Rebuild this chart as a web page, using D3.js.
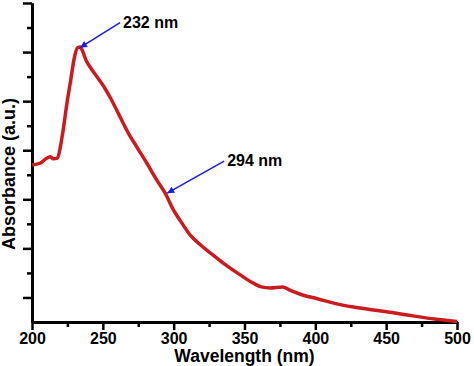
<!DOCTYPE html>
<html>
<head>
<meta charset="utf-8">
<script src="https://cdn.jsdelivr.net/npm/d3@7"></script>
<style>
  body { margin: 0; background: #fff; }
  svg { display: block; font-family: "Liberation Sans", Arial, sans-serif; }
</style>
</head>
<body>
<div id="chart"></div>
<script>
// UV-Vis spectrum, values
const wavelength = [200, 206, 210, 213, 215, 218, 220, 222, 225, 227, 230, 232, 234, 236, 238, 241,
    246, 250, 255, 262, 268, 274, 281, 288, 294, 300, 305, 312, 319, 326, 335, 347,
    356, 362, 368, 377, 382, 391, 402, 413, 427, 441, 456, 470, 484, 500];
const absorbance = [0.640, 0.648, 0.666, 0.673, 0.665, 0.668, 0.713, 0.782, 0.905, 0.974, 1.080, 1.117, 1.121, 1.100, 1.068, 1.039,
    0.998, 0.966, 0.917, 0.838, 0.770, 0.713, 0.648, 0.579, 0.525, 0.455, 0.410, 0.352, 0.314, 0.281, 0.240, 0.192,
    0.159, 0.143, 0.139, 0.143, 0.130, 0.110, 0.094, 0.077, 0.061, 0.049, 0.037, 0.024, 0.012, 0.002];

const xMajorTicks = [200, 250, 300, 350, 400, 450, 500];
const xMinorTicks = [225, 275, 325, 375, 425, 475];
const yMajorTicks = [0.1, 0.3, 0.5, 0.7, 0.9, 1.1, 1.3];
const yMinorTicks = [0.2, 0.4, 0.6, 0.8, 1.0, 1.2];

const peakLabels = ["232 nm", "294 nm"];
const peakWavelengths = [232.5, 294];

const width = 474, height = 366;
const margin = { top: 3, right: 17, bottom: 44, left: 32 };

const x = d3.scaleLinear()
    .domain([200, 500])
    .range([margin.left, width - margin.right]);

const y = d3.scaleLinear()
    .domain([0, 1.3])
    .range([height - margin.bottom, margin.top]);

const data = wavelength.map((w, i) => ({ w: w, a: absorbance[i] }));

const svg = d3.select("#chart").append("svg")
    .attr("width", width)
    .attr("height", height);

// axes: minor ticks first, then major with labels
function styleAxis(g) {
    g.selectAll(".tick line").attr("stroke", "#000").attr("stroke-width", 2.5);
    g.select(".domain").attr("stroke", "#000").attr("stroke-width", 3);
}

svg.append("g")
    .attr("transform", `translate(0,${y(0)})`)
    .call(d3.axisBottom(x).tickValues(xMinorTicks).tickSize(5).tickSizeOuter(0).tickFormat(""))
    .call(styleAxis);

svg.append("g")
    .attr("transform", `translate(0,${y(0)})`)
    .call(d3.axisBottom(x).tickValues(xMajorTicks).tickSize(8).tickSizeOuter(0).tickPadding(3))
    .call(styleAxis)
    .call(g => g.selectAll(".tick text")
        .attr("font-size", 16)
        .attr("font-weight", "bold")
        .attr("fill", "#000"));

svg.append("g")
    .attr("transform", `translate(${x(200)},0)`)
    .call(d3.axisLeft(y).tickValues(yMinorTicks).tickSize(5).tickSizeOuter(0).tickFormat(""))
    .call(styleAxis);

svg.append("g")
    .attr("transform", `translate(${x(200)},0)`)
    .call(d3.axisLeft(y).tickValues(yMajorTicks).tickSize(9).tickSizeOuter(0).tickFormat(""))
    .call(styleAxis);

// axis titles
svg.append("text")
    .attr("x", (x(200) + x(500)) / 2)
    .attr("y", 362)
    .attr("text-anchor", "middle")
    .attr("font-size", 17.5)
    .attr("font-weight", "bold")
    .text("Wavelength (nm)");

svg.append("text")
    .attr("transform", "translate(15,174) rotate(-90)")
    .attr("text-anchor", "middle")
    .attr("font-size", 18)
    .attr("font-weight", "bold")
    .text("Absorbance (a.u.)");

// spectrum
const line = d3.line()
    .x(d => x(d.w))
    .y(d => y(d.a))
    .curve(d3.curveMonotoneX);

svg.append("path")
    .datum(data)
    .attr("fill", "none")
    .attr("stroke", "#cc1b1f")
    .attr("stroke-width", 3.5)
    .attr("stroke-linejoin", "round")
    .attr("d", line);

// arrows
svg.append("defs").append("marker")
    .attr("id", "head")
    .attr("viewBox", "0 0 10 10")
    .attr("refX", 10)
    .attr("refY", 5)
    .attr("markerWidth", 9)
    .attr("markerHeight", 7)
    .attr("markerUnits", "userSpaceOnUse")
    .attr("orient", "auto")
    .append("path")
    .attr("d", "M0,0L10,5L0,10z")
    .attr("fill", "#1c1ee0");

const absAt = d3.scaleLinear().domain(wavelength).range(absorbance);
const tails = [[40, -25], [57, -32]];

peakLabels.forEach((label, i) => {
    const tx = x(peakWavelengths[i]) + 2;
    const ty = y(absAt(peakWavelengths[i]));
    svg.append("line")
        .attr("x1", tx + tails[i][0])
        .attr("y1", ty + tails[i][1])
        .attr("x2", tx)
        .attr("y2", ty)
        .attr("stroke", "#1c1ee0")
        .attr("stroke-width", 1.6)
        .attr("marker-end", "url(#head)");
    svg.append("text")
        .attr("x", tx + tails[i][0] + 3)
        .attr("y", ty + tails[i][1] + 5)
        .attr("font-size", 16)
        .attr("font-weight", "bold")
        .text(label);
});
</script>
</body>
</html>
